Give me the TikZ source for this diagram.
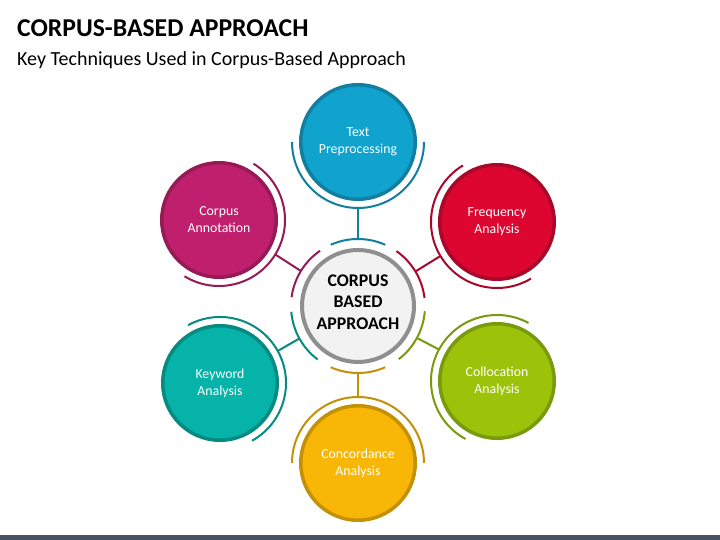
\documentclass[tikz,border=0pt]{standalone}
\usepackage{fontspec}
\setmainfont{Carlito}
\usetikzlibrary{calc}
\definecolor{barcol}{HTML}{465365}
\definecolor{cfill}{HTML}{F2F2F2}
\definecolor{cgray}{HTML}{8F8F8F}
\definecolor{f1}{HTML}{0FA3CD}\definecolor{b1}{HTML}{137FA0}
\definecolor{f2}{HTML}{DD0630}\definecolor{b2}{HTML}{A8082A}
\definecolor{f3}{HTML}{9CC20A}\definecolor{b3}{HTML}{7A9A0E}
\definecolor{f4}{HTML}{F8B707}\definecolor{b4}{HTML}{C39006}
\definecolor{f5}{HTML}{05B3A8}\definecolor{b5}{HTML}{068A82}
\definecolor{f6}{HTML}{C01F6D}\definecolor{b6}{HTML}{951A56}
\tikzset{
  outer/.style={circle, minimum size=114.5, inner sep=0, line width=3.5, text=white, align=center, font=\fontsize{13.8}{17}\selectfont},
  hub/.style={circle, minimum size=112, inner sep=0, line width=4, draw=cgray, fill=cfill},
  hubtext/.style={inner sep=0, align=center, font=\fontsize{17.8}{21.5}\bfseries},
  arcline/.style={line width=2},
}
\begin{document}
\begin{tikzpicture}[x=1pt,y=1pt]
\useasboundingbox (0,0) rectangle (720,540);
\fill[white] (0,0) rectangle (720,540);
\fill[barcol] (0,0) rectangle (720,5);
\node[anchor=base west, inner sep=0, font=\fontsize{25.7}{30}\bfseries] (title) at (17,503) {CORPUS-BASED APPROACH};
\node[anchor=base west, inner sep=0, font=\fontsize{20}{24}\selectfont] (sub) at (17,474) {Key Techniques Used in Corpus-Based Approach};
\node[hub] (c) at (358,234) {};
\node[hubtext] (ct) at (358,238) {CORPUS\\BASED\\APPROACH};
\foreach \nm/\px/\py/\ang/\fc/\bc/\txt in {
  n1/358/398/90/f1/b1/{Text\\Preprocessing},
  n2/497/318/31/f2/b2/{Frequency\\Analysis},
  n3/497/159/-28.5/f3/b3/{Collocation\\Analysis},
  n4/358/77/-90/f4/b4/{Concordance\\Analysis},
  n5/220/157/209/f5/b5/{Keyword\\Analysis},
  n6/219/320/148.5/f6/b6/{Corpus\\Annotation}} {
  \node[outer, fill=\fc, draw=\bc] (\nm) at (\px,\py) {\txt};
  \draw[arcline, draw=\bc] ($(\nm)+({\ang+90}:66)$) arc[start angle={\ang+90}, end angle={\ang+270}, radius=66];
  \draw[arcline, draw=\bc] ($(c)+({\ang-24}:67)$) arc[start angle={\ang-24}, end angle={\ang+24}, radius=67];
  \coordinate (\nm-a) at ($(\nm)+({\ang+180}:66)$);
  \coordinate (\nm-c) at ($(c)+(\ang:67)$);
  \draw[arcline, draw=\bc] (\nm-c) -- (\nm-a);
}
\end{tikzpicture}
\end{document}
